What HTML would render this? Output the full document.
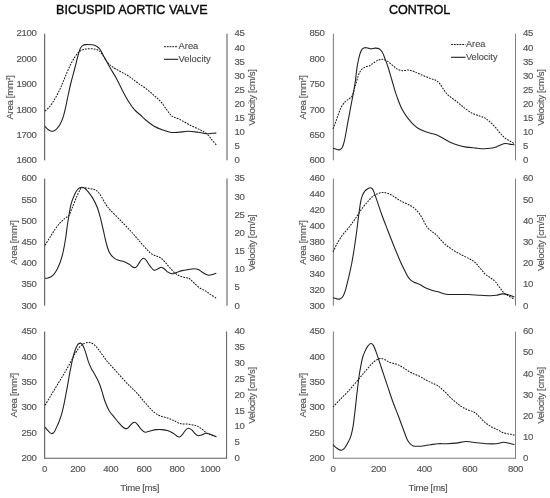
<!DOCTYPE html>
<html><head><meta charset="utf-8"><title>Figure</title>
<style>html,body{margin:0;padding:0;background:#fff}svg{display:block}text{font-family:"Liberation Sans",sans-serif}.t{font-size:9.6px;letter-spacing:-0.32px;fill:#535353;stroke:#535353;stroke-width:0.15}.ti{font-size:12.55px;fill:#0a0a0a;stroke:#0a0a0a;stroke-width:0.38}.lg{font-size:9.15px;fill:#4a4a4a;stroke:#4a4a4a;stroke-width:0.12}.v{fill:none;stroke:#202020;stroke-width:1.08;stroke-linejoin:round;stroke-linecap:butt}.a{fill:none;stroke:#161616;stroke-width:1.02;stroke-dasharray:1.8 1.1}</style></head><body>
<svg width="550" height="498" viewBox="0 0 550 498">
<rect width="550" height="498" fill="#fff"/>
<text class="ti" x="131.8" y="14.35" text-anchor="middle" textLength="151.5" lengthAdjust="spacingAndGlyphs">BICUSPID AORTIC VALVE</text>
<text class="ti" x="419.6" y="14.35" text-anchor="middle">CONTROL</text>
<line x1="44.60" y1="33.7" x2="44.60" y2="160.3" stroke="#6c6c6c" stroke-width="1.25"/>
<line x1="227.00" y1="33.7" x2="227.00" y2="160.3" stroke="#a9a9a9" stroke-width="2"/>
<text class="t" x="36.5" y="36.4" text-anchor="end">2100</text>
<text class="t" x="36.5" y="61.8" text-anchor="end">2000</text>
<text class="t" x="36.5" y="87.1" text-anchor="end">1900</text>
<text class="t" x="36.5" y="112.5" text-anchor="end">1800</text>
<text class="t" x="36.5" y="137.8" text-anchor="end">1700</text>
<text class="t" x="36.5" y="163.2" text-anchor="end">1600</text>
<text class="t" x="234.6" y="36.4">45</text>
<text class="t" x="234.6" y="50.5">40</text>
<text class="t" x="234.6" y="64.6">35</text>
<text class="t" x="234.6" y="78.7">30</text>
<text class="t" x="234.6" y="92.8">25</text>
<text class="t" x="234.6" y="106.8">20</text>
<text class="t" x="234.6" y="120.9">15</text>
<text class="t" x="234.6" y="135.0">10</text>
<text class="t" x="234.6" y="149.1">5</text>
<text class="t" x="234.6" y="163.2">0</text>
<text class="t" transform="translate(13.1 97.4) rotate(-90)" text-anchor="middle">Area [mm<tspan font-size="5.6" dy="-3.2">2</tspan><tspan dy="3.2">]</tspan></text>
<text class="t" transform="translate(254.9 97.6) rotate(-90)" text-anchor="middle">Velocity [cm/s]</text>
<path class="a" d="M45.0 111.0C45.7 110.4 47.7 108.8 49.0 107.3C50.3 105.8 51.5 104.2 52.7 102.3C54.0 100.4 55.2 98.4 56.5 96.1C57.8 93.8 59.1 90.9 60.2 88.6C61.3 86.2 61.9 84.7 63.0 82.0C64.1 79.3 65.7 75.5 67.0 72.5C68.3 69.5 69.7 66.4 71.0 63.8C72.3 61.2 73.8 58.7 75.0 56.8C76.2 54.9 77.3 53.4 78.5 52.3C79.7 51.2 80.8 50.5 82.0 50.0C83.2 49.5 84.5 49.2 86.0 49.0C87.5 48.8 89.3 48.8 91.0 48.8C92.7 48.8 94.6 48.9 96.0 49.3C97.4 49.7 98.4 50.3 99.5 51.2C100.6 52.1 101.5 53.4 102.5 54.8C103.5 56.2 104.4 58.0 105.5 59.5C106.6 61.0 107.7 62.6 109.0 64.0C110.3 65.3 111.6 66.3 113.5 67.6C115.4 68.8 118.2 70.3 120.3 71.5C122.4 72.7 124.3 73.4 126.3 74.6C128.3 75.8 130.5 77.4 132.4 78.8C134.3 80.2 135.7 81.4 138.0 83.1C140.3 84.8 143.4 86.6 146.1 88.7C148.8 90.8 151.6 93.3 154.1 95.5C156.6 97.7 158.9 99.6 161.1 102.1C163.3 104.5 165.2 107.8 167.1 110.2C168.9 112.6 170.0 114.6 172.2 116.2C174.4 117.8 177.2 118.1 180.2 119.6C183.2 121.1 186.8 123.5 190.2 125.2C193.5 126.9 197.5 128.4 200.3 129.9C203.2 131.4 205.3 132.6 207.3 134.3C209.3 136.0 210.8 138.5 212.3 140.3C213.8 142.1 215.6 144.1 216.3 144.9"/>
<path class="v" d="M45.0 126.5C45.6 127.0 47.1 128.9 48.4 129.7C49.6 130.5 51.1 131.4 52.5 131.3C53.9 131.2 55.2 130.3 56.5 129.1C57.8 127.9 59.1 126.2 60.2 124.1C61.3 122.0 62.4 119.5 63.3 116.6C64.2 113.7 65.0 110.4 65.8 106.7C66.6 103.0 67.4 98.5 68.3 94.5C69.2 90.5 69.9 87.0 71.0 82.5C72.1 78.0 73.8 72.2 75.0 67.5C76.2 62.8 77.4 57.7 78.3 54.5C79.2 51.3 79.6 50.0 80.3 48.5C81.0 47.0 81.5 46.2 82.5 45.6C83.5 45.0 84.4 44.7 86.0 44.6C87.6 44.5 90.3 44.6 92.0 44.8C93.7 45.0 95.0 45.3 96.2 45.9C97.5 46.5 98.5 47.5 99.5 48.6C100.5 49.8 101.2 51.3 102.0 52.8C102.8 54.3 103.2 55.2 104.6 57.8C106.0 60.3 108.3 64.7 110.3 68.1C112.2 71.5 114.3 74.5 116.3 78.2C118.3 81.9 120.3 86.4 122.3 90.2C124.3 94.0 126.4 98.0 128.4 101.3C130.4 104.5 132.4 107.4 134.4 109.7C136.4 112.0 138.4 113.2 140.4 115.0C142.4 116.8 144.1 118.6 146.4 120.5C148.7 122.4 151.5 124.7 154.1 126.2C156.7 127.7 159.4 128.7 162.1 129.7C164.8 130.7 167.5 131.9 170.2 132.3C172.9 132.7 175.2 132.5 178.2 132.3C181.2 132.1 184.8 131.3 188.2 131.3C191.5 131.3 195.3 131.9 198.3 132.3C201.3 132.7 204.0 133.5 206.3 133.7C208.6 133.9 210.6 133.4 212.3 133.3C214.0 133.2 215.6 133.1 216.3 133.1"/>
<line x1="44.60" y1="178.6" x2="44.60" y2="305.7" stroke="#6c6c6c" stroke-width="1.25"/>
<line x1="227.00" y1="178.6" x2="227.00" y2="305.7" stroke="#a9a9a9" stroke-width="2"/>
<text class="t" x="36.5" y="181.3" text-anchor="end">600</text>
<text class="t" x="36.5" y="202.5" text-anchor="end">550</text>
<text class="t" x="36.5" y="223.7" text-anchor="end">500</text>
<text class="t" x="36.5" y="245.0" text-anchor="end">450</text>
<text class="t" x="36.5" y="266.2" text-anchor="end">400</text>
<text class="t" x="36.5" y="287.4" text-anchor="end">350</text>
<text class="t" x="36.5" y="308.6" text-anchor="end">300</text>
<text class="t" x="234.6" y="181.3">35</text>
<text class="t" x="234.6" y="199.5">30</text>
<text class="t" x="234.6" y="217.7">25</text>
<text class="t" x="234.6" y="235.9">20</text>
<text class="t" x="234.6" y="254.0">15</text>
<text class="t" x="234.6" y="272.2">10</text>
<text class="t" x="234.6" y="290.4">5</text>
<text class="t" x="234.6" y="308.6">0</text>
<text class="t" transform="translate(16.8 242.6) rotate(-90)" text-anchor="middle">Area [mm<tspan font-size="5.6" dy="-3.2">2</tspan><tspan dy="3.2">]</tspan></text>
<text class="t" transform="translate(254.9 242.8) rotate(-90)" text-anchor="middle">Velocity [cm/s]</text>
<path class="a" d="M45.0 245.3C45.8 244.0 48.3 239.9 50.0 237.2C51.7 234.5 53.4 231.6 55.1 229.2C56.8 226.8 58.4 224.6 60.1 222.8C61.8 221.0 63.6 219.5 65.1 218.2C66.6 216.9 67.9 216.9 69.1 215.2C70.3 213.5 70.9 210.9 72.1 208.1C73.3 205.2 74.8 201.2 76.1 198.1C77.4 195.0 79.2 191.2 80.2 189.5C81.2 187.8 80.9 187.9 82.2 187.7C83.5 187.5 86.2 188.0 88.2 188.3C90.2 188.6 92.5 188.9 94.2 189.5C95.9 190.1 96.9 190.7 98.2 192.1C99.5 193.5 100.9 195.9 102.2 198.1C103.5 200.3 105.0 203.1 106.3 205.1C107.6 207.1 108.0 207.6 110.3 210.1C112.6 212.6 117.0 216.8 120.3 220.2C123.6 223.6 127.6 227.7 130.2 230.5C132.8 233.3 134.0 234.8 136.0 237.1C138.0 239.4 140.0 241.8 142.0 244.1C144.0 246.4 146.4 249.0 148.1 250.7C149.8 252.4 150.6 253.3 152.1 254.2C153.6 255.1 155.6 255.5 157.1 256.2C158.6 256.9 159.8 257.2 161.1 258.2C162.4 259.2 163.6 260.5 165.1 262.2C166.6 263.9 168.5 266.4 170.2 268.2C171.9 270.0 173.5 271.9 175.2 273.2C176.9 274.5 178.4 275.4 180.2 276.2C182.0 276.9 184.5 277.2 186.2 277.7C187.9 278.2 188.8 278.4 190.2 279.3C191.5 280.2 192.8 281.9 194.3 283.3C195.8 284.7 197.5 286.4 199.3 287.7C201.1 289.0 203.5 289.8 205.3 290.9C207.1 292.0 208.5 293.1 210.3 294.3C212.1 295.5 215.3 297.6 216.3 298.3"/>
<path class="v" d="M45.0 278.2C45.5 278.2 47.0 278.2 48.0 278.0C49.0 277.8 50.0 277.4 51.0 276.8C52.0 276.2 53.0 275.4 54.0 274.2C55.0 273.0 56.0 271.4 57.0 269.5C58.0 267.6 59.0 265.6 60.0 262.8C61.0 260.0 62.1 256.6 63.0 252.5C63.9 248.4 64.9 243.1 65.6 238.5C66.3 233.9 66.8 229.0 67.4 225.0C68.0 221.0 68.5 217.9 69.1 214.5C69.7 211.1 70.1 207.7 70.9 204.6C71.7 201.5 73.2 197.9 74.1 195.8C74.9 193.7 75.3 193.0 76.0 191.8C76.7 190.6 77.8 189.4 78.5 188.7C79.2 188.0 79.8 187.7 80.5 187.5C81.2 187.3 82.2 187.3 83.0 187.5C83.8 187.7 84.2 187.8 85.0 188.5C85.8 189.2 86.7 189.9 88.0 191.6C89.3 193.3 91.4 195.9 93.0 198.6C94.6 201.3 96.2 204.7 97.4 207.8C98.6 210.9 99.3 213.7 100.3 217.4C101.3 221.1 102.3 225.9 103.3 230.2C104.3 234.5 105.3 239.6 106.3 243.3C107.3 247.0 108.1 250.0 109.3 252.3C110.5 254.6 111.8 256.0 113.3 257.3C114.8 258.6 116.5 259.6 118.3 260.3C120.1 261.0 122.4 261.0 124.3 261.7C126.2 262.4 128.1 263.6 129.4 264.4C130.7 265.2 131.4 266.2 132.2 266.7C133.0 267.2 133.7 267.6 134.4 267.6C135.1 267.6 135.7 267.4 136.4 266.8C137.1 266.2 137.7 265.2 138.4 264.2C139.1 263.2 139.8 261.9 140.4 261.0C141.0 260.1 141.7 259.3 142.2 258.9C142.7 258.4 143.0 258.3 143.4 258.3C143.8 258.3 144.3 258.4 144.8 258.8C145.3 259.2 145.5 259.3 146.4 260.5C147.3 261.7 148.8 264.6 150.1 266.2C151.4 267.8 152.8 269.8 154.1 270.2C155.4 270.6 156.9 269.3 158.1 268.8C159.3 268.3 160.1 267.2 161.1 267.2C162.1 267.2 162.9 268.0 164.1 268.8C165.3 269.6 166.8 271.4 168.2 272.2C169.5 273.0 170.7 273.8 172.2 273.8C173.7 273.8 175.5 272.7 177.2 272.2C178.9 271.7 180.4 271.0 182.2 270.6C184.0 270.2 186.2 269.9 188.2 269.6C190.2 269.3 192.6 268.8 194.3 268.8C196.0 268.8 197.0 269.0 198.3 269.6C199.6 270.2 201.0 271.4 202.3 272.2C203.6 273.0 205.1 274.1 206.3 274.6C207.5 275.1 208.1 275.3 209.3 275.2C210.5 275.1 212.1 274.5 213.3 274.2C214.5 273.9 215.8 273.4 216.3 273.2"/>
<line x1="44.60" y1="331.5" x2="44.60" y2="458.3" stroke="#6c6c6c" stroke-width="1.25"/>
<line x1="226.55" y1="331.5" x2="226.55" y2="458.3" stroke="#6c6c6c" stroke-width="1.15"/>
<line x1="43.98" y1="458.3" x2="227.13" y2="458.3" stroke="#5e5e5e" stroke-width="1.1"/>
<text class="t" x="36.5" y="334.2" text-anchor="end">450</text>
<text class="t" x="36.5" y="359.6" text-anchor="end">400</text>
<text class="t" x="36.5" y="385.0" text-anchor="end">350</text>
<text class="t" x="36.5" y="410.4" text-anchor="end">300</text>
<text class="t" x="36.5" y="435.8" text-anchor="end">250</text>
<text class="t" x="36.5" y="461.2" text-anchor="end">200</text>
<text class="t" x="234.6" y="334.2">40</text>
<text class="t" x="234.6" y="350.1">35</text>
<text class="t" x="234.6" y="365.9">30</text>
<text class="t" x="234.6" y="381.8">25</text>
<text class="t" x="234.6" y="397.7">20</text>
<text class="t" x="234.6" y="413.6">15</text>
<text class="t" x="234.6" y="429.4">10</text>
<text class="t" x="234.6" y="445.3">5</text>
<text class="t" x="234.6" y="461.2">0</text>
<text class="t" transform="translate(16.8 395.3) rotate(-90)" text-anchor="middle">Area [mm<tspan font-size="5.6" dy="-3.2">2</tspan><tspan dy="3.2">]</tspan></text>
<text class="t" transform="translate(254.9 395.5) rotate(-90)" text-anchor="middle">Velocity [cm/s]</text>
<path class="a" d="M45.0 405.3C45.8 403.9 48.3 399.8 50.0 397.0C51.7 394.2 53.3 391.5 55.0 388.7C56.7 385.9 58.3 383.1 60.0 380.4C61.7 377.6 63.3 375.0 65.0 372.2C66.7 369.4 68.3 366.4 70.0 363.3C71.7 360.2 73.3 356.6 75.0 353.8C76.7 351.0 78.4 348.3 80.0 346.6C81.6 344.9 83.1 344.1 84.5 343.4C85.9 342.7 87.2 342.5 88.5 342.5C89.8 342.5 91.0 342.6 92.5 343.5C94.0 344.4 95.6 345.9 97.2 347.8C98.8 349.7 100.5 352.3 102.2 354.6C103.9 356.9 105.3 359.1 107.3 361.5C109.3 363.9 111.8 366.4 114.3 369.2C116.8 372.0 119.7 375.3 122.3 378.2C124.9 381.1 127.9 384.3 130.2 386.6C132.5 388.9 134.0 390.0 136.0 392.1C138.0 394.2 140.0 396.8 142.0 399.1C144.0 401.4 146.1 403.9 148.1 406.1C150.1 408.3 152.1 410.6 154.1 412.2C156.1 413.8 157.8 414.8 160.1 415.8C162.4 416.8 165.8 417.4 168.2 418.2C170.5 419.0 172.2 419.9 174.2 420.8C176.2 421.7 177.9 423.0 180.2 423.6C182.5 424.2 185.5 423.8 188.2 424.2C190.9 424.6 194.1 425.1 196.3 425.8C198.5 426.5 199.6 427.5 201.3 428.6C203.0 429.8 204.8 431.7 206.3 432.7C207.8 433.7 208.6 434.0 210.3 434.7C212.0 435.4 215.3 436.4 216.3 436.7"/>
<path class="v" d="M45.0 427.2C45.5 427.8 47.1 429.8 48.0 430.7C48.9 431.6 49.7 432.4 50.3 432.9C50.9 433.4 51.3 433.6 51.8 433.6C52.3 433.6 52.8 433.4 53.3 433.0C53.8 432.6 54.1 432.2 54.8 431.0C55.4 429.8 56.5 427.5 57.2 425.9C57.9 424.3 58.4 423.4 59.1 421.5C59.8 419.6 60.8 417.0 61.6 414.2C62.4 411.4 63.0 408.9 63.9 404.7C64.8 400.5 65.9 394.6 66.9 389.2C67.9 383.8 68.9 377.4 69.9 372.2C70.9 367.0 71.9 361.9 72.8 358.1C73.7 354.3 74.7 351.5 75.5 349.3C76.3 347.1 77.0 345.9 77.5 345.0C78.0 344.1 78.3 344.0 78.8 343.7C79.2 343.4 79.7 343.1 80.2 343.1C80.7 343.1 81.2 343.4 81.6 343.7C82.0 344.0 82.2 344.0 82.8 345.2C83.4 346.4 84.3 348.5 85.2 351.1C86.1 353.8 87.2 358.2 88.2 361.1C89.2 364.0 90.0 365.9 91.2 368.2C92.4 370.5 93.9 372.7 95.2 375.2C96.5 377.7 98.0 380.4 99.2 383.2C100.4 386.0 101.2 389.0 102.2 392.2C103.2 395.4 104.1 399.2 105.3 402.3C106.5 405.4 107.8 408.5 109.3 411.0C110.8 413.5 112.6 415.2 114.3 417.3C116.0 419.4 117.9 421.8 119.3 423.4C120.7 425.0 121.8 426.2 122.8 427.0C123.8 427.8 124.3 428.1 125.0 428.4C125.7 428.7 126.1 428.7 126.7 428.6C127.3 428.5 127.8 428.2 128.4 427.6C129.0 427.1 129.7 426.1 130.4 425.3C131.1 424.5 131.9 423.5 132.6 423.0C133.3 422.5 133.8 422.3 134.4 422.3C135.0 422.3 135.5 422.5 136.0 422.9C136.5 423.3 136.7 423.5 137.6 424.6C138.5 425.7 139.9 428.0 141.2 429.3C142.5 430.6 143.7 431.9 145.2 432.2C146.7 432.5 148.3 431.4 150.1 431.0C151.9 430.6 154.1 429.8 156.1 429.6C158.1 429.4 160.1 429.4 162.1 429.6C164.1 429.8 166.3 430.2 168.2 430.8C170.0 431.4 171.7 432.4 173.2 433.3C174.7 434.2 176.1 435.7 177.2 436.3C178.3 436.9 178.9 437.2 179.8 436.9C180.7 436.6 181.6 435.5 182.6 434.3C183.6 433.1 184.8 430.8 185.8 429.8C186.8 428.8 187.6 428.2 188.6 428.2C189.6 428.2 190.7 428.9 191.8 429.8C192.9 430.8 194.2 432.9 195.3 433.9C196.4 434.9 197.1 435.6 198.3 435.7C199.5 435.8 201.0 435.1 202.3 434.7C203.6 434.3 205.0 433.4 206.3 433.3C207.6 433.2 208.6 433.7 210.3 434.3C212.0 434.9 215.3 436.3 216.3 436.7"/>
<line x1="333.45" y1="33.7" x2="333.45" y2="160.3" stroke="#8e8e8e" stroke-width="1.25"/>
<line x1="515.50" y1="33.7" x2="515.50" y2="160.3" stroke="#808080" stroke-width="1.05"/>
<text class="t" x="324.6" y="36.4" text-anchor="end">850</text>
<text class="t" x="324.6" y="61.8" text-anchor="end">800</text>
<text class="t" x="324.6" y="87.1" text-anchor="end">750</text>
<text class="t" x="324.6" y="112.5" text-anchor="end">700</text>
<text class="t" x="324.6" y="137.8" text-anchor="end">650</text>
<text class="t" x="324.6" y="163.2" text-anchor="end">600</text>
<text class="t" x="523.0" y="36.4">45</text>
<text class="t" x="523.0" y="50.5">40</text>
<text class="t" x="523.0" y="64.6">35</text>
<text class="t" x="523.0" y="78.7">30</text>
<text class="t" x="523.0" y="92.8">25</text>
<text class="t" x="523.0" y="106.8">20</text>
<text class="t" x="523.0" y="120.9">15</text>
<text class="t" x="523.0" y="135.0">10</text>
<text class="t" x="523.0" y="149.1">5</text>
<text class="t" x="523.0" y="163.2">0</text>
<text class="t" transform="translate(306.2 97.4) rotate(-90)" text-anchor="middle">Area [mm<tspan font-size="5.6" dy="-3.2">2</tspan><tspan dy="3.2">]</tspan></text>
<text class="t" transform="translate(543.9 97.6) rotate(-90)" text-anchor="middle">Velocity [cm/s]</text>
<path class="a" d="M333.0 128.9C333.4 127.8 334.6 125.0 335.5 122.5C336.4 120.0 337.5 116.4 338.5 113.8C339.5 111.2 340.3 108.9 341.5 106.8C342.7 104.7 344.2 102.8 345.5 101.4C346.8 100.0 348.4 99.5 349.5 98.5C350.6 97.5 351.4 97.6 352.3 95.6C353.2 93.6 354.1 89.8 355.1 86.6C356.1 83.4 357.1 79.0 358.1 76.2C359.1 73.5 359.9 71.6 361.1 70.1C362.3 68.6 363.6 67.9 365.1 67.1C366.6 66.3 368.7 66.3 370.2 65.5C371.7 64.7 372.9 63.4 374.2 62.5C375.5 61.6 376.9 60.6 378.2 60.1C379.5 59.6 380.7 59.1 382.2 59.3C383.7 59.5 385.5 60.1 387.2 61.1C388.9 62.1 390.6 63.8 392.3 65.1C394.0 66.4 395.6 68.2 397.3 69.1C399.0 70.0 400.5 70.5 402.3 70.7C404.1 70.9 406.3 69.9 408.3 70.1C410.3 70.3 412.0 70.8 414.3 71.7C416.6 72.6 419.7 74.2 422.4 75.3C425.1 76.4 428.1 77.5 430.4 78.4C432.7 79.3 434.5 79.5 436.1 80.5C437.7 81.5 438.8 82.5 440.1 84.1C441.4 85.7 442.8 88.3 444.1 90.1C445.4 91.9 446.1 93.3 448.1 95.1C450.1 96.9 453.4 99.0 456.1 101.1C458.8 103.2 461.5 105.8 464.2 107.8C466.9 109.8 469.5 111.8 472.2 113.2C474.9 114.6 478.0 115.4 480.2 116.2C482.4 117.0 483.6 117.2 485.3 118.2C487.0 119.2 488.6 120.7 490.3 122.2C492.0 123.7 493.6 125.3 495.3 127.2C497.0 129.1 498.6 131.5 500.3 133.3C502.0 135.2 503.6 137.0 505.3 138.3C507.0 139.6 508.9 140.4 510.4 141.3C511.9 142.2 513.7 143.3 514.4 143.7"/>
<path class="v" d="M333.0 148.3C333.7 148.5 335.8 149.3 337.0 149.5C338.2 149.7 339.1 150.1 340.0 149.7C340.9 149.3 341.6 148.9 342.4 147.3C343.1 145.7 343.6 144.2 344.5 140.3C345.4 136.5 346.5 129.6 347.5 124.2C348.5 118.8 349.5 113.6 350.5 108.2C351.5 102.8 352.7 96.8 353.5 92.1C354.3 87.4 354.9 84.5 355.5 80.0C356.1 75.5 356.7 69.4 357.4 65.1C358.1 60.8 359.1 56.8 359.9 54.1C360.7 51.4 361.3 50.2 362.2 49.1C363.1 48.0 364.1 47.9 365.1 47.7C366.1 47.5 367.2 47.9 368.2 48.1C369.2 48.3 370.0 48.9 371.2 48.9C372.4 48.9 373.9 48.1 375.2 48.1C376.5 48.1 378.0 48.0 379.2 48.7C380.4 49.4 381.2 50.4 382.2 52.1C383.2 53.8 384.1 56.4 385.2 59.1C386.2 61.8 387.4 64.9 388.5 68.5C389.6 72.1 390.9 76.8 392.0 80.5C393.1 84.2 394.1 87.8 395.0 90.8C395.9 93.8 396.7 96.0 397.5 98.3C398.3 100.6 399.2 102.8 400.0 104.8C400.8 106.8 401.5 108.2 402.5 110.0C403.5 111.8 404.8 113.9 406.0 115.6C407.2 117.3 408.2 118.7 409.5 120.2C410.8 121.7 412.1 123.3 413.5 124.6C414.9 125.9 416.2 127.1 418.0 128.2C419.8 129.3 422.2 130.4 424.4 131.3C426.6 132.2 429.3 132.8 431.4 133.4C433.5 134.0 435.2 134.4 437.0 135.1C438.8 135.8 439.9 136.6 442.1 137.8C444.3 139.0 447.4 141.1 450.1 142.3C452.8 143.6 455.5 144.5 458.2 145.3C460.9 146.1 463.2 146.6 466.2 147.1C469.2 147.6 473.2 147.8 476.2 148.1C479.2 148.4 481.9 148.7 484.3 148.7C486.7 148.7 488.3 148.6 490.3 148.3C492.3 148.0 494.5 147.5 496.3 146.9C498.1 146.3 499.8 145.3 501.3 144.7C502.8 144.1 504.0 143.6 505.3 143.5C506.6 143.4 507.9 143.9 509.4 144.1C510.9 144.3 513.6 144.8 514.4 144.9"/>
<line x1="333.45" y1="178.6" x2="333.45" y2="305.7" stroke="#8e8e8e" stroke-width="1.25"/>
<line x1="515.50" y1="178.6" x2="515.50" y2="305.7" stroke="#808080" stroke-width="1.05"/>
<text class="t" x="324.6" y="181.3" text-anchor="end">460</text>
<text class="t" x="324.6" y="197.2" text-anchor="end">440</text>
<text class="t" x="324.6" y="213.1" text-anchor="end">420</text>
<text class="t" x="324.6" y="229.0" text-anchor="end">400</text>
<text class="t" x="324.6" y="245.0" text-anchor="end">380</text>
<text class="t" x="324.6" y="260.9" text-anchor="end">360</text>
<text class="t" x="324.6" y="276.8" text-anchor="end">340</text>
<text class="t" x="324.6" y="292.7" text-anchor="end">320</text>
<text class="t" x="324.6" y="308.6" text-anchor="end">300</text>
<text class="t" x="523.0" y="181.3">60</text>
<text class="t" x="523.0" y="202.5">50</text>
<text class="t" x="523.0" y="223.7">40</text>
<text class="t" x="523.0" y="245.0">30</text>
<text class="t" x="523.0" y="266.2">20</text>
<text class="t" x="523.0" y="287.4">10</text>
<text class="t" x="523.0" y="308.6">0</text>
<text class="t" transform="translate(306.2 242.6) rotate(-90)" text-anchor="middle">Area [mm<tspan font-size="5.6" dy="-3.2">2</tspan><tspan dy="3.2">]</tspan></text>
<text class="t" transform="translate(543.9 242.8) rotate(-90)" text-anchor="middle">Velocity [cm/s]</text>
<path class="a" d="M333.0 252.0C333.7 250.6 335.5 246.5 337.0 243.8C338.5 241.1 340.2 238.2 342.1 235.6C344.0 233.0 346.3 230.7 348.1 228.4C349.9 226.1 351.4 224.1 353.1 221.8C354.8 219.5 356.4 216.9 358.1 214.4C359.8 211.9 361.4 209.3 363.1 207.1C364.8 204.9 366.5 202.9 368.2 201.1C369.9 199.3 371.5 197.4 373.2 196.1C374.9 194.8 376.5 194.1 378.2 193.5C379.9 192.9 381.5 192.5 383.2 192.5C384.9 192.5 386.5 192.9 388.2 193.5C389.9 194.1 391.6 195.1 393.3 196.1C395.0 197.1 396.5 198.4 398.3 199.5C400.1 200.6 402.3 201.7 404.3 202.7C406.3 203.7 408.5 204.4 410.3 205.5C412.1 206.6 413.8 207.8 415.3 209.1C416.8 210.4 418.0 211.7 419.4 213.6C420.8 215.5 422.1 218.2 423.4 220.5C424.7 222.8 425.9 225.6 427.4 227.5C428.9 229.4 431.0 230.7 432.4 231.9C433.8 233.1 434.7 233.3 436.0 234.5C437.3 235.7 438.4 237.3 440.1 239.1C441.8 240.9 443.8 243.2 446.1 245.1C448.4 247.0 451.4 249.0 454.1 250.7C456.8 252.4 459.5 253.8 462.2 255.2C464.9 256.6 468.0 258.0 470.2 259.2C472.4 260.4 473.5 261.1 475.2 262.6C476.9 264.1 478.5 266.3 480.2 268.2C481.9 270.1 483.6 272.6 485.3 274.2C487.0 275.8 488.6 276.4 490.3 277.7C492.0 278.9 493.6 279.9 495.3 281.7C497.0 283.5 498.8 286.4 500.3 288.3C501.8 290.2 502.8 292.0 504.3 293.3C505.8 294.6 507.7 295.3 509.4 296.3C511.1 297.3 513.6 298.8 514.4 299.3"/>
<path class="v" d="M333.0 297.7C333.7 297.9 335.8 298.7 337.0 298.9C338.2 299.1 339.0 299.3 340.0 298.9C341.0 298.5 342.1 297.9 343.0 296.3C343.9 294.7 344.8 292.5 345.7 289.3C346.6 286.1 347.7 281.5 348.7 277.2C349.7 272.9 350.7 268.8 351.7 263.5C352.7 258.2 353.9 250.9 354.7 245.5C355.5 240.1 356.0 236.2 356.7 231.2C357.4 226.1 358.0 220.0 358.7 215.2C359.4 210.3 360.0 205.4 360.6 202.1C361.2 198.8 361.7 197.0 362.5 195.1C363.3 193.2 364.4 191.8 365.3 190.7C366.2 189.6 367.4 189.0 368.2 188.5C369.0 188.0 369.5 187.7 370.2 187.7C370.9 187.7 371.6 188.0 372.2 188.7C372.8 189.4 373.2 190.2 374.0 192.1C374.8 194.0 375.5 196.4 376.8 200.1C378.1 203.8 379.9 209.5 381.7 214.5C383.5 219.5 385.7 225.0 387.7 230.2C389.7 235.4 391.8 240.7 393.8 245.7C395.8 250.7 398.0 256.0 399.8 260.2C401.6 264.4 403.5 268.2 404.9 271.0C406.3 273.8 407.0 275.4 408.0 276.9C409.0 278.4 409.8 279.3 410.8 280.2C411.8 281.1 412.6 281.5 414.0 282.2C415.4 282.9 417.3 283.3 419.4 284.3C421.5 285.3 424.2 287.3 426.4 288.3C428.6 289.3 430.5 289.9 432.4 290.5C434.3 291.1 435.7 291.2 438.0 291.8C440.3 292.4 443.1 293.9 446.1 294.3C449.1 294.8 452.4 294.5 456.1 294.5C459.8 294.5 464.2 294.4 468.2 294.5C472.2 294.6 476.5 295.1 480.2 295.3C483.9 295.5 487.6 295.7 490.3 295.7C493.0 295.7 494.3 295.6 496.3 295.3C498.3 295.0 500.3 294.0 502.3 293.9C504.3 293.8 506.4 294.2 508.4 294.7C510.4 295.2 513.4 296.5 514.4 296.9"/>
<line x1="333.45" y1="331.5" x2="333.45" y2="458.3" stroke="#8e8e8e" stroke-width="1.25"/>
<line x1="515.50" y1="331.5" x2="515.50" y2="458.3" stroke="#808080" stroke-width="1.05"/>
<line x1="332.82" y1="458.3" x2="516.00" y2="458.3" stroke="#7c7c7c" stroke-width="1.1"/>
<text class="t" x="324.6" y="334.2" text-anchor="end">450</text>
<text class="t" x="324.6" y="359.6" text-anchor="end">400</text>
<text class="t" x="324.6" y="385.0" text-anchor="end">350</text>
<text class="t" x="324.6" y="410.4" text-anchor="end">300</text>
<text class="t" x="324.6" y="435.8" text-anchor="end">250</text>
<text class="t" x="324.6" y="461.2" text-anchor="end">200</text>
<text class="t" x="523.0" y="334.2">60</text>
<text class="t" x="523.0" y="355.4">50</text>
<text class="t" x="523.0" y="376.5">40</text>
<text class="t" x="523.0" y="397.7">30</text>
<text class="t" x="523.0" y="418.9">20</text>
<text class="t" x="523.0" y="440.0">10</text>
<text class="t" x="523.0" y="461.2">0</text>
<text class="t" transform="translate(306.2 395.3) rotate(-90)" text-anchor="middle">Area [mm<tspan font-size="5.6" dy="-3.2">2</tspan><tspan dy="3.2">]</tspan></text>
<text class="t" transform="translate(543.9 395.5) rotate(-90)" text-anchor="middle">Velocity [cm/s]</text>
<path class="a" d="M333.0 407.0C334.2 405.8 337.5 402.2 340.0 399.6C342.5 397.0 345.4 394.3 348.1 391.4C350.8 388.5 353.4 385.3 356.1 382.2C358.8 379.1 361.6 375.6 364.1 372.6C366.6 369.7 369.2 366.6 371.2 364.5C373.2 362.4 374.7 361.1 376.2 360.1C377.7 359.1 378.9 358.6 380.2 358.5C381.5 358.4 382.5 358.8 384.2 359.5C385.9 360.2 388.0 361.7 390.2 362.5C392.4 363.3 395.1 363.6 397.3 364.5C399.5 365.4 401.1 366.5 403.3 367.8C405.5 369.1 407.8 370.9 410.3 372.2C412.8 373.5 415.7 374.5 418.4 375.8C421.1 377.1 424.1 379.0 426.4 380.2C428.7 381.4 430.5 382.3 432.4 383.2C434.3 384.1 436.1 384.5 438.0 385.8C439.9 387.1 441.8 388.9 444.1 391.1C446.5 393.3 449.4 396.7 452.1 399.1C454.8 401.5 457.7 403.9 460.2 405.7C462.7 407.4 464.9 408.5 467.2 409.6C469.5 410.7 472.2 411.0 474.2 412.2C476.2 413.4 477.5 415.0 479.2 416.6C480.9 418.2 482.4 420.2 484.3 421.8C486.2 423.4 488.1 424.9 490.3 426.2C492.5 427.5 495.0 428.5 497.3 429.6C499.6 430.8 502.1 432.3 504.3 433.1C506.5 433.9 508.7 433.9 510.4 434.3C512.1 434.7 513.7 435.1 514.4 435.3"/>
<path class="v" d="M333.0 444.7C333.7 445.3 335.6 447.4 337.0 448.3C338.4 449.2 339.9 450.2 341.1 450.3C342.3 450.4 342.9 450.0 344.1 448.7C345.3 447.4 346.9 444.5 348.1 442.3C349.3 440.1 350.3 438.0 351.1 435.3C351.9 432.6 352.4 430.4 353.1 426.2C353.8 422.0 354.4 415.9 355.1 410.2C355.8 404.5 356.4 397.8 357.1 392.1C357.8 386.4 358.5 380.4 359.1 376.0C359.7 371.6 360.2 369.1 360.8 366.0C361.4 362.9 361.9 360.0 362.6 357.5C363.3 355.0 364.2 353.1 365.1 351.1C366.0 349.1 367.2 347.0 368.2 345.7C369.1 344.4 370.0 343.6 370.8 343.5C371.6 343.4 372.3 343.7 373.2 345.1C374.1 346.5 375.2 349.4 376.2 352.1C377.2 354.8 378.0 357.6 379.2 361.1C380.4 364.6 381.7 368.7 383.2 373.2C384.7 377.7 386.5 383.2 388.2 388.2C389.9 393.2 391.6 398.4 393.3 403.0C395.0 407.6 397.0 412.3 398.3 415.8C399.6 419.3 400.3 421.3 401.3 424.0C402.3 426.7 403.3 429.4 404.3 432.0C405.3 434.6 406.3 437.8 407.3 439.8C408.3 441.8 409.3 442.9 410.3 443.9C411.3 444.9 412.0 445.5 413.3 445.9C414.6 446.3 416.5 446.3 418.4 446.3C420.2 446.3 422.4 446.0 424.4 445.7C426.4 445.4 428.1 445.0 430.4 444.7C432.7 444.4 435.4 443.9 438.0 443.7C440.6 443.5 443.1 443.8 446.1 443.7C449.1 443.6 452.8 443.5 456.1 443.1C459.5 442.7 462.9 441.6 466.2 441.5C469.5 441.4 472.8 442.3 476.2 442.7C479.6 443.1 482.9 443.5 486.3 443.7C489.7 443.9 493.5 443.9 496.3 443.7C499.1 443.5 501.1 442.4 503.3 442.3C505.5 442.2 507.5 442.9 509.4 443.3C511.2 443.7 513.6 444.5 514.4 444.7"/>
<text class="t" x="44.5" y="472.4" text-anchor="middle">0</text>
<text class="t" x="77.7" y="472.4" text-anchor="middle">200</text>
<text class="t" x="110.8" y="472.4" text-anchor="middle">400</text>
<text class="t" x="143.9" y="472.4" text-anchor="middle">600</text>
<text class="t" x="177.1" y="472.4" text-anchor="middle">800</text>
<text class="t" x="210.2" y="472.4" text-anchor="middle">1000</text>
<text class="t" x="333.0" y="472.4" text-anchor="middle">0</text>
<text class="t" x="378.6" y="472.4" text-anchor="middle">200</text>
<text class="t" x="424.2" y="472.4" text-anchor="middle">400</text>
<text class="t" x="469.8" y="472.4" text-anchor="middle">600</text>
<text class="t" x="515.4" y="472.4" text-anchor="middle">800</text>
<text class="t" x="139.7" y="490.8" text-anchor="middle">Time [ms]</text>
<text class="t" x="428" y="490.8" text-anchor="middle">Time [ms]</text>
<line x1="164.0" y1="46.7" x2="178.2" y2="46.7" stroke="#1c1c1c" stroke-width="1" stroke-dasharray="1.9 0.86"/>
<text class="lg" style="font-size:9.40px" x="178.5" y="49.4">Area</text>
<line x1="164.0" y1="59.3" x2="178.2" y2="59.3" stroke="#1c1c1c" stroke-width="1.1"/>
<text class="lg" style="font-size:9.40px" x="178.5" y="62.4">Velocity</text>
<line x1="451.1" y1="44.5" x2="465.5" y2="44.5" stroke="#1c1c1c" stroke-width="1" stroke-dasharray="1.9 0.86"/>
<text class="lg" style="font-size:9.15px" x="466.0" y="46.7">Area</text>
<line x1="451.1" y1="57.3" x2="465.5" y2="57.3" stroke="#1c1c1c" stroke-width="1.1"/>
<text class="lg" style="font-size:9.15px" x="466.0" y="60.0">Velocity</text>
</svg></body></html>
